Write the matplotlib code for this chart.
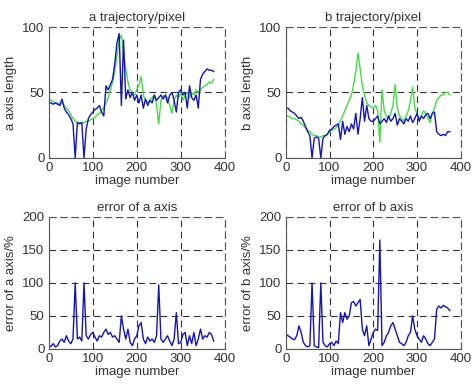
import matplotlib
matplotlib.use("Agg")
import matplotlib.pyplot as plt

plt.rcParams['font.family'] = ['Liberation Sans', 'DejaVu Sans']
plt.rcParams['font.size'] = 9.5
plt.rcParams['text.color'] = '#333333'
plt.rcParams['axes.labelcolor'] = '#333333'
plt.rcParams['xtick.color'] = '#333333'
plt.rcParams['ytick.color'] = '#333333'

# image number, one value every 5 frames
frames = list(range(0, 380, 5))

# a axis: green = reference, blue = tracked
green_a = [45, 44, 43, 42, 42, 41, 42, 40, 38, 36, 33, 30, 28, 27, 27, 27, 27, 28, 28, 29,
           30, 31, 33, 34, 36, 38, 42, 46, 52, 58, 66, 78, 90, 94, 80, 68, 58, 52, 50, 48,
           52, 56, 62, 48, 44, 42, 44, 46, 48, 40, 26, 44, 47, 48, 46, 40, 34, 44, 48, 46,
           50, 44, 48, 50, 46, 50, 48, 52, 50, 52, 54, 55, 56, 58, 57, 60]
blue_a = [42, 42, 41, 42, 41, 40, 45, 38, 35, 33, 30, 26, 0, 27, 26, 27, 0, 22, 30, 33,
          35, 37, 38, 40, 35, 32, 55, 52, 56, 60, 72, 88, 95, 40, 90, 45, 52, 46, 50, 44,
          48, 42, 48, 38, 45, 40, 44, 42, 48, 44, 46, 48, 45, 48, 42, 48, 50, 44, 35, 50,
          52, 48, 50, 38, 55, 46, 44, 48, 38, 60, 64, 66, 68, 67, 67, 66]

# b axis
green_b = [32, 32, 31, 30, 30, 29, 28, 26, 25, 23, 21, 20, 18, 17, 17, 16, 16, 17, 17, 18,
           20, 21, 22, 23, 25, 28, 32, 36, 40, 44, 48, 56, 66, 80, 68, 55, 48, 42, 40, 39,
           38, 40, 36, 12, 52, 36, 32, 30, 34, 40, 56, 38, 32, 30, 28, 32, 36, 44, 54, 38,
           34, 30, 32, 36, 34, 30, 27, 34, 38, 44, 46, 48, 48, 50, 50, 48]
blue_b = [38, 38, 36, 35, 34, 32, 30, 31, 28, 24, 20, 17, 0, 15, 16, 15, 0, 15, 17, 18,
          21, 22, 24, 25, 26, 14, 28, 18, 24, 20, 26, 22, 34, 18, 30, 46, 28, 40, 30, 28,
          28, 30, 32, 26, 28, 30, 27, 32, 28, 30, 34, 25, 30, 28, 26, 30, 28, 32, 27, 30,
          34, 28, 32, 30, 33, 34, 30, 34, 35, 20, 18, 17, 18, 17, 20, 20]

# errors in %
err_a = [5, 4, 8, 3, 5, 12, 15, 10, 20, 12, 8, 15, 100, 15, 18, 12, 100, 20, 15, 22,
         25, 18, 12, 20, 18, 25, 30, 22, 25, 18, 20, 15, 10, 50, 30, 15, 30, 10, 5, 15,
         20, 35, 40, 15, 8, 18, 12, 15, 10, 20, 97, 15, 10, 15, 20, 12, 5, 15, 55, 8,
         10, 22, 25, 5, 20, 8, 25, 5, 15, 30, 15, 20, 18, 25, 22, 12]
err_b = [22, 20, 18, 15, 14, 20, 35, 25, 10, 5, 3, 5, 100, 5, 3, 2, 100, 10, 5, 3,
         8, 10, 5, 12, 8, 55, 40, 55, 45, 50, 70, 72, 65, 70, 75, 30, 20, 35, 5, 15,
         25, 30, 28, 165, 5, 10, 20, 25, 35, 40, 30, 20, 10, 8, 5, 10, 20, 25, 50, 30,
         20, 15, 10, 20, 15, 8, 5, 10, 15, 60, 65, 62, 66, 64, 62, 58]

BLUE = '#1414b8'
GREEN = '#44dd44'

fig = plt.figure(figsize=(4.74, 3.86), dpi=100)
boxes = [[0.103, 0.591, 0.371, 0.339], [0.603, 0.591, 0.369, 0.339],
         [0.103, 0.096, 0.371, 0.342], [0.603, 0.096, 0.369, 0.342]]
axs = [fig.add_axes(b) for b in boxes]

axs[0].plot(frames, green_a, color=GREEN, lw=1.0)
axs[0].plot(frames, blue_a, color=BLUE, lw=1.0)
axs[0].set_title("a trajectory/pixel", fontsize=9.5, pad=4)
axs[0].set_ylabel("a axis length")

axs[1].plot(frames, green_b, color=GREEN, lw=1.0)
axs[1].plot(frames, blue_b, color=BLUE, lw=1.0)
axs[1].set_title("b trajectory/pixel", fontsize=9.5, pad=4)
axs[1].set_ylabel("b axis length")

axs[2].plot(frames, err_a, color=BLUE, lw=1.0)
axs[2].set_title("error of a axis", fontsize=9.5, pad=4)
axs[2].set_ylabel("error of a axis/%")

axs[3].plot(frames, err_b, color=BLUE, lw=1.0)
axs[3].set_title("error of b axis", fontsize=9.5, pad=4)
axs[3].set_ylabel("error of b axis/%")

for i, ax in enumerate(axs):
    ax.set_xlim(0, 400)
    ax.set_xticks([0, 100, 200, 300, 400])
    if i < 2:
        ax.set_ylim(0, 100)
        ax.set_yticks([0, 50, 100])
    else:
        ax.set_ylim(0, 200)
        ax.set_yticks([0, 50, 100, 150, 200])
    ax.set_xlabel("image number", labelpad=1)
    ax.grid(True, color='#333333', linestyle=(0, (6, 4)), linewidth=0.8)
    ax.tick_params(direction='in', length=0, pad=3, labelsize=9.5)
    for name, s in ax.spines.items():
        s.set_color('#555555')
        s.set_linewidth(0.8)
        if name in ('top', 'right'):
            s.set_linestyle((0, (6, 4)))

fig.savefig("out.png", dpi=100)
